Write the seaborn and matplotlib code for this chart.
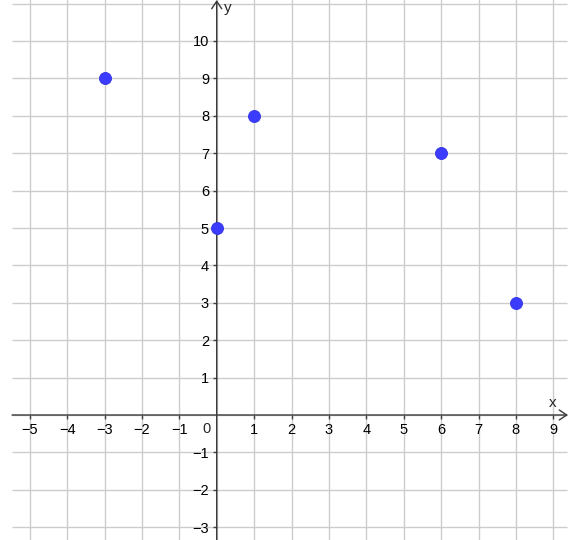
import matplotlib
matplotlib.use("Agg")
import matplotlib.pyplot as plt
import seaborn as sns

# points
px = [-3, 0, 1, 6, 8]
py = [9, 5, 8, 7, 3]

xticks = [-5, -4, -3, -2, -1, 1, 2, 3, 4, 5, 6, 7, 8, 9]
yticks = [-3, -2, -1, 1, 2, 3, 4, 5, 6, 7, 8, 9, 10]
xgrid = list(range(-5, 10))
ygrid = list(range(-3, 12))

sns.set_theme(style="white")
plt.rcParams['font.family'] = ['Liberation Sans', 'DejaVu Sans']

fig = plt.figure(figsize=(5.83, 5.40), dpi=100)
ax = fig.add_axes([0, 0, 1, 1])

unit = 37.4  # pixels per unit
x0, y0 = 216.7, 415.0  # pixel of origin
ax.set_xlim(-x0 / unit, (583 - x0) / unit)
ax.set_ylim(-(540 - y0) / unit, y0 / unit)

xa, xb = (12 - x0) / unit, (567 - x0) / unit

# grid
for g in xgrid:
    ax.axvline(g, color='#cccccc', lw=1, zorder=0)
ax.hlines(ygrid, xa, xb, color='#cccccc', lw=1, zorder=0)

# axes through the origin
for s in ax.spines.values():
    s.set_visible(False)
ax.spines['left'].set_position(('data', 0))
ax.spines['bottom'].set_position(('data', 0))
ax.set_xticks(xticks)
ax.set_xticklabels([str(t).replace('-', '\u2212') for t in xticks])
ax.set_yticks(yticks)
ax.set_yticklabels([str(t).replace('-', '\u2212') for t in yticks])
ax.tick_params(axis='both', direction='out', length=3, width=1, pad=2.5,
               color='#444444', labelsize=10.5, labelcolor='black',
               bottom=True, left=True)

arrow = dict(arrowstyle='->,head_length=0.45,head_width=0.3', color='#3a3a3a',
             lw=1, shrinkA=0, shrinkB=0)
ylo, yhi = ax.get_ylim()
ax.annotate('', xy=((568 - x0) / unit, 0), xytext=(xa, 0), arrowprops=arrow, zorder=2)
ax.annotate('', xy=(0, yhi), xytext=(0, ylo), arrowprops=arrow, zorder=2)

ax.text(-0.26, -0.38, '0', fontsize=10.5, ha='center', va='center')
ax.text(8.99, 0.32, 'x', fontsize=11, ha='center', va='center')
ax.text(0.3, 10.88, 'y', fontsize=11, ha='center', va='center')

sns.scatterplot(x=px, y=py, ax=ax, s=75, color='#3c3cff', edgecolor='#3232e6',
                linewidth=0.6, zorder=5, clip_on=False)
ax.set_xlabel('')
ax.set_ylabel('')

fig.savefig('out.png', dpi=100)
